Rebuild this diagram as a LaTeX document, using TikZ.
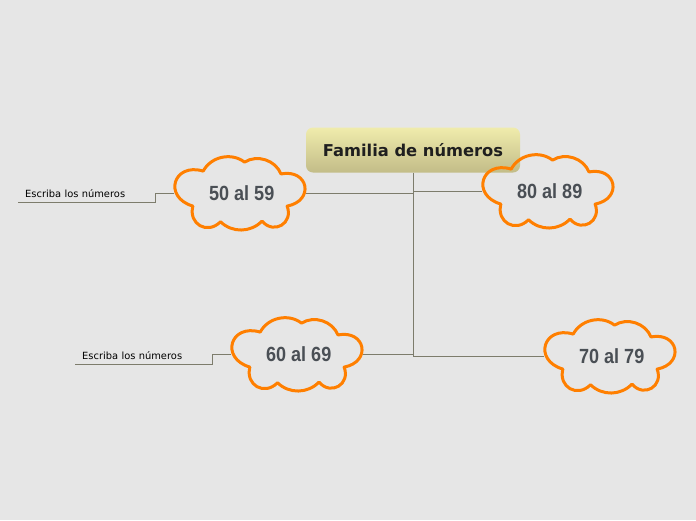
\documentclass[tikz,border=0pt]{standalone}
\usepackage{fontspec}
\setmainfont{DejaVu Sans}
\newfontfamily\cloudfont[FakeStretch=0.88]{Liberation Sans}
\definecolor{bgcol}{HTML}{E6E6E6}
\definecolor{puff}{HTML}{FF7F00}
\definecolor{wire}{HTML}{7D7C6C}
\definecolor{numtext}{HTML}{4A4F55}
\definecolor{titletop}{HTML}{F0ECAC}
\definecolor{titlebot}{HTML}{C2BC88}

\begin{document}
\begin{tikzpicture}[x=1pt, y=-1pt,
    topic/.style={minimum width=132pt, minimum height=72pt, inner sep=0pt,
        text=numtext, font=\cloudfont\bfseries\fontsize{20.5}{20}\selectfont},
    puffline/.style={draw=puff, line width=3pt, line join=round},
    note/.style={anchor=south west, text width=123pt, align=left,
        inner xsep=7pt, inner ysep=4pt, font=\fontsize{9.9}{11}\selectfont},
    wire/.style={draw=wire, line width=1pt}]
    % Background
    \fill[bgcol] (0,0) rectangle (696,520);
    \useasboundingbox (0,0) rectangle (696,520);

    % Central topic
    \node[rounded corners=7pt, top color=titletop, bottom color=titlebot,
        minimum width=214pt, minimum height=45pt, text=black!88,
        font=\bfseries\fontsize{16.3}{18}\selectfont] (title) at (413,150) {Familia de números};

    % The four ranges
    \node[topic] (c50) at (240,193) {\raisebox{-2pt}{\,50 al 59}};
    \node[topic] (c80) at (548,191) {\raisebox{-2pt}{\,80 al 89}};
    \node[topic] (c60) at (297,354) {\raisebox{-2pt}{\,60 al 69}};
    \node[topic] (c70) at (610,356) {\raisebox{-2pt}{\,70 al 79}};

    % Cloud outlines round them
    \foreach \c in {c50,c80,c60,c70}
        \draw[puffline, shift={(\c.center)}] (-135:52 and 31)
            to[bend left=50] (-85:52 and 31)
            to[bend left=50] (-38:52 and 31)
            to[bend left=90, looseness=2.2] (25:52 and 31)
            to[bend left=80, looseness=1.6] (65:52 and 31)
            to[bend left=45] (112:52 and 31)
            to[bend left=75, looseness=1.5] (155:52 and 31)
            to[bend left=90, looseness=2.2] (225:52 and 31) -- cycle;

    % Branches
    \draw[wire] (title.south) |- (c70.west);
    \draw[wire] (c50.east) -- (c50.east -| title.south);
    \draw[wire] (c80.west) -- (c80.west -| title.south);
    \draw[wire] (c60.east) -- (c60.east -| title.south);

    % Notes on the left
    \node[note] (lab50) at (18,202) {Escriba los números};
    \draw[wire] (lab50.south west) -- (lab50.south east) |- (c50.west);
    \node[note] (lab60) at (75,364) {Escriba los números};
    \draw[wire] (lab60.south west) -- (lab60.south east) |- (c60.west);
\end{tikzpicture}
\end{document}
